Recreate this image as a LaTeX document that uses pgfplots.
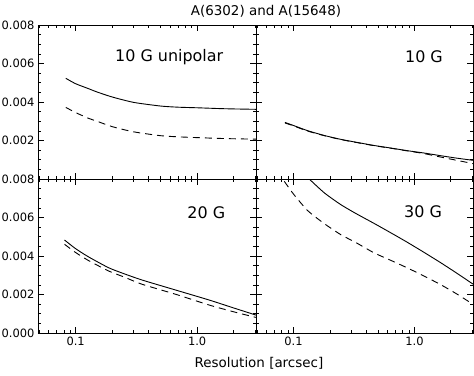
\documentclass[border=0pt]{standalone}
\usepackage{fontspec}
\setmainfont{DejaVu Sans}
\usepackage{pgfplots}
\pgfplotsset{compat=1.18}
\pgfplotsset{
 every axis/.append style={
  scale only axis, height=154bp,
  xmin=0.049, xmax=3.05, ymin=0, ymax=0.008,
  axis line style={line width=0.9bp},
  tick align=inside,
  xtick={0.1,1},
  minor xtick={0.05,0.06,0.07,0.08,0.09,0.2,0.3,0.4,0.5,0.6,0.7,0.8,0.9,2,3},
  ytick={0,0.002,0.004,0.006,0.008},
  minor y tick num=3,
  major tick length=6bp, minor tick length=3bp,
  every tick/.style={black, line width=0.7bp},
  tick label style={font=\fontsize{11.5}{12}\selectfont},
  scaled y ticks=false,
  /pgf/number format/assume math mode=true,
  anchor=south west,
 },
}
\tikzset{
 idlsolid/.style={black, line width=0.9bp, mark=none, solid, smooth, tension=0.4},
 idldash/.style={black, line width=0.9bp, mark=none, smooth, tension=0.4, dash pattern=on 7bp off 5bp},
 idllbl/.style={font=\fontsize{16}{19}\selectfont},
}
\begin{document}
\begin{tikzpicture}
% bottom left: 20 G
\begin{semilogxaxis}[width=218bp, at={(0bp,0bp)},
  xticklabels={0.1,1.0},
  yticklabels={0.000,0.002,0.004,0.006,0.008}]
\addplot[idlsolid] coordinates {(0.081,0.00483)(0.1,0.00438)(0.128,0.00395)(0.187,0.00339)(0.25,0.00308)(0.353,0.00275)(0.667,0.00223)(1.26,0.00171)(2.0,0.00130)(3.05,0.00093)};
\addplot[idldash] coordinates {(0.081,0.00461)(0.1,0.00418)(0.128,0.00376)(0.187,0.00322)(0.25,0.00291)(0.353,0.00253)(0.667,0.00201)(1.26,0.00145)(2.0,0.00110)(3.05,0.00081)};
\node[idllbl] at (rel axis cs:0.772,0.779) {20 G};
\end{semilogxaxis}
% top left: 10 G unipolar
\begin{semilogxaxis}[width=218bp, at={(0bp,154bp)},
  xticklabels={},
  yticklabels={,0.002,0.004,0.006,0.008}]
\addplot[idlsolid] coordinates {(0.083,0.00523)(0.1,0.00495)(0.128,0.00469)(0.15,0.00452)(0.2,0.00426)(0.3,0.00398)(0.5,0.00379)(0.7,0.00373)(1.0,0.00370)(1.5,0.00366)(2.0,0.00364)(3.05,0.00362)};
\addplot[idldash] coordinates {(0.083,0.00372)(0.1,0.00345)(0.128,0.00315)(0.15,0.00300)(0.2,0.00272)(0.3,0.00245)(0.5,0.00225)(0.7,0.00219)(1.0,0.00215)(1.5,0.00211)(2.0,0.00209)(3.05,0.00207)};
\node[idllbl] at (rel axis cs:0.602,0.792) {10 G unipolar};
\end{semilogxaxis}
% bottom right: 30 G
\begin{semilogxaxis}[width=217bp, at={(218bp,0bp)},
  xticklabels={0.1,1.0},
  yticklabels={}]
\addplot[idlsolid] coordinates {(0.135,0.0080)(0.18,0.00728)(0.246,0.00667)(0.33,0.00620)(0.465,0.00569)(0.64,0.00520)(0.875,0.00471)(1.2,0.00419)(1.65,0.00365)(2.25,0.00310)(3.05,0.00254)};
\addplot[idldash] coordinates {(0.084,0.00788)(0.1,0.00722)(0.131,0.00636)(0.18,0.00568)(0.246,0.00511)(0.33,0.00469)(0.465,0.00416)(0.64,0.00377)(0.875,0.00338)(1.2,0.00296)(1.65,0.00251)(2.25,0.00202)(3.05,0.00149)};
\node[idllbl] at (rel axis cs:0.77,0.786) {30 G};
\end{semilogxaxis}
% top right: 10 G
\begin{semilogxaxis}[width=217bp, at={(218bp,154bp)},
  xticklabels={},
  yticklabels={}]
\addplot[idlsolid] coordinates {(0.085,0.00294)(0.1,0.00278)(0.131,0.00251)(0.18,0.00226)(0.246,0.00206)(0.35,0.00188)(0.465,0.00174)(0.65,0.00160)(0.875,0.00147)(1.2,0.00135)(1.65,0.00121)(2.2,0.00109)(3.05,0.00097)};
\addplot[idldash] coordinates {(0.085,0.00291)(0.1,0.00276)(0.131,0.00249)(0.18,0.00225)(0.246,0.00205)(0.35,0.00187)(0.465,0.00173)(0.65,0.00159)(0.875,0.00146)(1.2,0.00132)(1.65,0.00114)(2.2,0.00098)(3.05,0.00080)};
\node[idllbl] at (rel axis cs:0.774,0.792) {10 G};
\end{semilogxaxis}
\node[font=\fontsize{13.5}{16}\selectfont] at (228bp,322bp) {A(6302) and A(15648)};
\node[font=\fontsize{13.5}{16}\selectfont] at (221bp,-30bp) {Resolution [arcsec]};
\pgfresetboundingbox
\path[use as bounding box] (-38bp,-43bp) rectangle (436bp,333bp);
\end{tikzpicture}
\end{document}
